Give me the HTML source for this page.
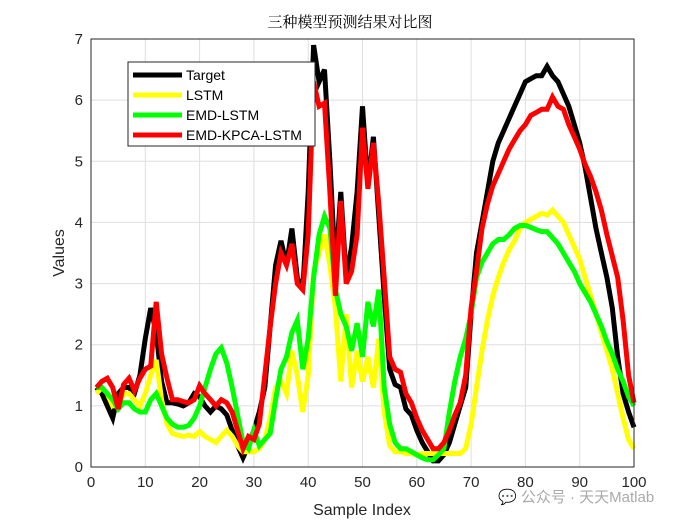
<!DOCTYPE html>
<html><head><meta charset="utf-8"><style>
body{margin:0;background:#fff;width:700px;height:525px;overflow:hidden;font-family:"Liberation Sans","Noto Sans CJK SC",sans-serif}
</style></head><body>
<svg width="700" height="525" xmlns="http://www.w3.org/2000/svg">
<rect width="700" height="525" fill="#fff"/>
<g id="grid"></g>
<g id="series"></g>
<rect x="91" y="39" width="543" height="428" fill="none" stroke="#262626" stroke-width="1"/>
<g id="ticks" font-size="15" fill="#262626"></g>
<text x="350" y="27" text-anchor="middle" font-size="15" fill="#000" font-family="'Noto Serif CJK SC','Noto Sans CJK SC',serif">三种模型预测结果对比图</text>
<text x="362" y="515" text-anchor="middle" font-size="16" fill="#262626">Sample Index</text>
<text transform="translate(64,253) rotate(-90)" text-anchor="middle" font-size="16" fill="#262626">Values</text>
<g id="legend"></g>
<text x="498" y="502" font-size="15" fill="#aaa">💬 公众号 · 天天Matlab</text>
</svg>
<script>
const xTicks=[0,10,20,30,40,50,60,70,80,90,100];
const yTicks=[0,1,2,3,4,5,6,7];
const seriesNames=["Target","LSTM","EMD-LSTM","EMD-KPCA-LSTM"];
const seriesColors=["#000000","#ffff00","#00ff00","#ff0000"];
const target=[1.3,1.2,1.0,0.8,1.2,1.3,1.3,1.2,1.5,2.1,2.6,2.2,1.4,1.05,1.05,1.03,1.0,1.05,1.2,1.15,1.0,0.9,1.0,0.95,0.85,0.6,0.35,0.15,0.35,0.6,0.9,1.3,2.3,3.3,3.7,3.3,3.9,3.1,2.9,4.5,6.9,6.3,6.5,5.0,3.2,4.5,3.1,3.6,4.5,5.9,4.6,5.4,4.1,2.8,1.6,1.35,1.3,0.95,0.85,0.6,0.4,0.25,0.1,0.1,0.2,0.4,0.7,1.0,1.3,2.5,3.5,4.0,4.5,5.0,5.3,5.5,5.7,5.9,6.1,6.3,6.35,6.4,6.4,6.55,6.4,6.3,6.1,5.9,5.6,5.3,4.9,4.4,3.9,3.5,3.1,2.6,1.8,1.2,0.9,0.65];
const lstm=[1.2,1.3,1.2,1.0,1.0,1.2,1.2,1.1,1.0,1.2,1.5,1.75,1.1,0.7,0.55,0.52,0.5,0.52,0.5,0.58,0.5,0.45,0.4,0.5,0.6,0.5,0.35,0.25,0.25,0.25,0.3,0.45,0.8,1.3,1.4,1.2,1.9,1.5,0.9,1.5,3.2,3.5,3.8,3.3,2.6,1.4,2.5,1.3,1.9,1.4,1.8,1.3,2.1,0.9,0.35,0.25,0.25,0.22,0.22,0.2,0.22,0.22,0.22,0.22,0.22,0.22,0.22,0.22,0.3,0.7,1.3,1.9,2.4,2.8,3.1,3.35,3.55,3.7,3.9,4.0,4.05,4.1,4.15,4.12,4.2,4.1,4.0,3.8,3.6,3.4,3.1,2.8,2.5,2.2,1.9,1.6,1.2,0.8,0.45,0.3];
const emdLstm=[1.3,1.3,1.2,1.1,0.95,1.05,1.05,0.95,0.9,0.9,1.1,1.2,1.0,0.8,0.7,0.65,0.65,0.68,0.8,1.0,1.3,1.6,1.85,1.95,1.7,1.3,0.85,0.4,0.3,0.6,0.35,0.45,0.55,1.1,1.6,1.8,2.2,2.4,1.6,2.1,3.1,3.8,4.1,3.9,2.9,2.5,2.3,1.9,2.35,1.8,2.7,2.3,2.9,1.3,0.7,0.4,0.3,0.3,0.25,0.2,0.15,0.12,0.12,0.2,0.3,0.9,1.4,1.8,2.1,2.5,3.1,3.35,3.5,3.65,3.72,3.72,3.8,3.9,3.95,3.95,3.92,3.88,3.85,3.85,3.75,3.65,3.5,3.35,3.2,3.0,2.85,2.7,2.5,2.3,2.05,1.85,1.6,1.4,1.15,1.0];
const emdKpcaLstm=[1.3,1.4,1.45,1.3,0.95,1.35,1.45,1.25,1.45,1.6,1.65,2.7,1.85,1.45,1.1,1.1,1.07,1.05,1.1,1.33,1.2,1.1,1.0,1.1,1.05,0.9,0.6,0.3,0.5,0.45,0.7,1.5,2.3,3.0,3.5,3.3,3.65,3.0,2.9,3.8,6.3,5.9,5.95,4.5,2.8,4.35,3.0,3.2,3.8,5.55,4.55,5.3,4.3,3.1,1.8,1.6,1.55,1.2,1.05,0.8,0.6,0.45,0.3,0.3,0.4,0.6,0.85,1.05,1.5,2.6,3.2,3.9,4.3,4.6,4.8,5.0,5.2,5.35,5.5,5.6,5.75,5.8,5.85,5.85,6.05,5.9,5.85,5.6,5.4,5.2,4.95,4.75,4.5,4.2,3.8,3.45,3.1,2.4,1.5,1.05];
const allSeries=[target,lstm,emdLstm,emdKpcaLstm];
const X0=91,X1=634,Y0=467,Y1=39;
function xs(v){return X0+(v-0)/(100-0)*(X1-X0);}
function ys(v){return Y0-(v-0)/(7-0)*(Y0-Y1);}
const NS="http://www.w3.org/2000/svg";
const grid=document.getElementById('grid'),ticks=document.getElementById('ticks');
function mk(t,a){const e=document.createElementNS(NS,t);for(const k in a)e.setAttribute(k,a[k]);return e;}
xTicks.forEach(t=>{
  const l=mk('line',{x1:xs(t),x2:xs(t),y1:Y1,y2:Y0,stroke:'#dfdfdf','stroke-width':1});
  
  
  grid.appendChild(l);
  const tl=mk('text',{x:xs(t),y:Y0+20,'text-anchor':'middle'});
  
  
  tl.textContent=t;ticks.appendChild(tl);
});
yTicks.forEach(t=>{
  const l=mk('line',{x1:X0,x2:X1,y1:ys(t),y2:ys(t),stroke:'#dfdfdf','stroke-width':1});
  
  
  grid.appendChild(l);
  const tl=mk('text',{x:X0-8,y:ys(t)+5,'text-anchor':'end'});
  
  
  tl.textContent=t;ticks.appendChild(tl);
});
const sg=document.getElementById('series');
allSeries.forEach((arr,si)=>{
  const pts=arr.map((v,i)=>xs(i+1).toFixed(1)+','+ys(v).toFixed(1)).join(' ');
  const p=mk('polyline',{points:pts,fill:'none',stroke:seriesColors[si],'stroke-width':5,'stroke-linejoin':'miter'});
  
  
  sg.appendChild(p);
});
const lg=document.getElementById('legend');
const box=mk('rect',{x:128,y:62,width:187,height:84,fill:'#fff',stroke:'#262626','stroke-width':1});


lg.appendChild(box);
seriesNames.forEach((n,i)=>{
  const y=75+i*20;
  const l=mk('line',{x1:133,x2:182,y1:y,y2:y,stroke:seriesColors[i],'stroke-width':5});
  
  
  lg.appendChild(l);
  const t=mk('text',{x:186,y:y+5,'font-size':14,fill:'#000'});
  
  
  t.textContent=n;lg.appendChild(t);
});
</script>
</body></html>
